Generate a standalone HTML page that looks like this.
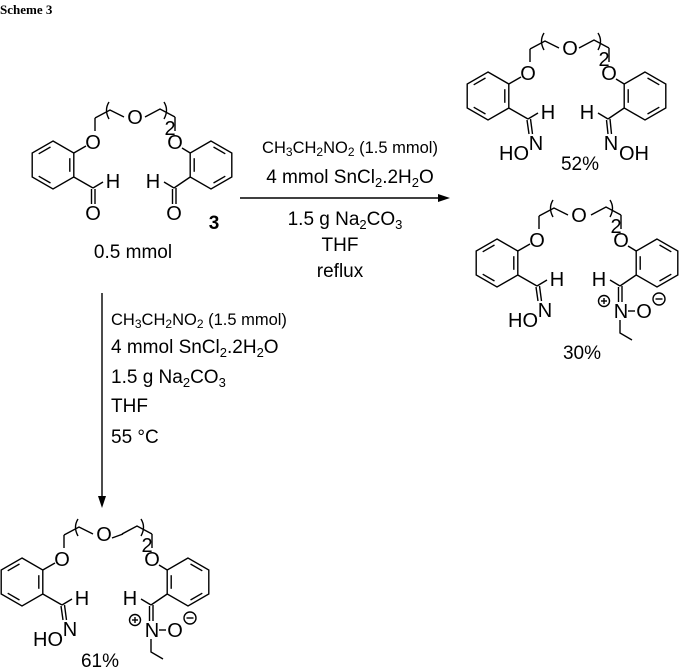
<!DOCTYPE html>
<html><head><meta charset="utf-8"><style>
html,body{margin:0;padding:0;background:#fff;}
svg{display:block;}
text{font-family:"Liberation Sans",sans-serif;font-size:20px;fill:#000;}
.b line,.b polyline,.b polygon,.b path,.b circle{stroke:#000;stroke-width:1.4;fill:none;}
</style></head><body>
<svg width="685" height="672" viewBox="0 0 685 672" xmlns="http://www.w3.org/2000/svg">
<defs>
<g id="lring" class="b">
<polygon points="0,-24 20.8,-12 20.8,12 0,24 -20.8,12 -20.8,-12"/>
<line x1="-14.3" y1="-11.2" x2="-2.5" y2="-18"/>
<line x1="16.8" y1="-6.8" x2="16.8" y2="6.8"/>
<line x1="-2.5" y1="18" x2="-14.3" y2="11.2"/>
<line x1="20.8" y1="-12" x2="33" y2="-19"/>
<line x1="42" y1="-34" x2="42" y2="-47"/>
<polyline points="42,-47 57,-55 71,-48"/>
<path d="M56,-63 Q51,-55 56,-46"/>
<line x1="20.8" y1="12" x2="40" y2="23"/>
<line x1="40" y1="23" x2="50" y2="17"/>
</g>
<g id="rring" class="b">
<polygon points="0,-24 -20.8,-12 -20.8,12 0,24 20.8,12 20.8,-12"/>
<line x1="14.3" y1="-11.2" x2="2.5" y2="-18"/>
<line x1="-16.8" y1="-6.8" x2="-16.8" y2="6.8"/>
<line x1="2.5" y1="18" x2="14.3" y2="11.2"/>
<line x1="-20.8" y1="-12" x2="-29" y2="-17"/>
<line x1="-36" y1="-34" x2="-36" y2="-48"/>
<polyline points="-36,-48 -51,-56 -66,-48"/>
<path d="M-47,-63 Q-42,-55 -47,-46"/>
<line x1="-20.8" y1="12" x2="-37" y2="23"/>
<line x1="-37" y1="23" x2="-47" y2="17"/>
</g>
</defs>

<text x="0" y="14" style="font-family:'Liberation Serif',serif;font-weight:bold;font-size:13px">Scheme 3</text>

<!-- starting material -->
<g transform="translate(53,165)">
<use href="#lring"/>
<g class="b"><line x1="38.5" y1="24" x2="38.5" y2="39"/><line x1="42" y1="24" x2="42" y2="39"/></g>
<text x="40" y="-16" text-anchor="middle">O</text>
<text x="82" y="-41" text-anchor="middle">O</text>
<text x="60" y="23" text-anchor="middle">H</text>
<text x="40" y="55" text-anchor="middle">O</text>
</g>
<g transform="translate(211,165)">
<use href="#rring"/>
<g class="b"><line x1="-38.5" y1="24" x2="-38.5" y2="39"/><line x1="-35" y1="23" x2="-35" y2="39"/></g>
<text x="-36" y="-16" text-anchor="middle">O</text>
<text x="-41" y="-30" text-anchor="middle">2</text>
<text x="-58" y="23" text-anchor="middle">H</text>
<text x="-37" y="55" text-anchor="middle">O</text>
</g>
<text x="214" y="229" text-anchor="middle" style="font-weight:bold;font-size:19px">3</text>
<text x="133" y="258" text-anchor="middle" style="font-size:19px">0.5 mmol</text>

<!-- horizontal arrow -->
<g class="b"><line x1="240" y1="198" x2="440" y2="198"/></g>
<polygon points="450,198 438,194 438,202" fill="#000"/>
<text x="350" y="153" text-anchor="middle" style="font-size:16.5px">CH<tspan font-size="12" dy="3">3</tspan><tspan dy="-3">CH</tspan><tspan font-size="12" dy="3">2</tspan><tspan dy="-3">NO</tspan><tspan font-size="12" dy="3">2</tspan><tspan dy="-3"> (1.5 mmol)</tspan></text>
<text x="350" y="183" text-anchor="middle" style="font-size:19px">4 mmol SnCl<tspan font-size="13" dy="4">2</tspan><tspan dy="-4">.2H</tspan><tspan font-size="13" dy="4">2</tspan><tspan dy="-4">O</tspan></text>
<text x="345" y="225" text-anchor="middle" style="font-size:19px">1.5 g Na<tspan font-size="13" dy="4">2</tspan><tspan dy="-4">CO</tspan><tspan font-size="13" dy="4">3</tspan></text>
<text x="340" y="251" text-anchor="middle" style="font-size:19px">THF</text>
<text x="340" y="277" text-anchor="middle" style="font-size:19px">reflux</text>

<!-- vertical arrow -->
<g class="b"><line x1="102" y1="293" x2="102" y2="498"/></g>
<polygon points="102,508 98,496 106,496" fill="#000"/>
<text x="111" y="325" style="font-size:16.5px">CH<tspan font-size="12" dy="3">3</tspan><tspan dy="-3">CH</tspan><tspan font-size="12" dy="3">2</tspan><tspan dy="-3">NO</tspan><tspan font-size="12" dy="3">2</tspan><tspan dy="-3"> (1.5 mmol)</tspan></text>
<text x="111" y="353" style="font-size:19px">4 mmol SnCl<tspan font-size="13" dy="4">2</tspan><tspan dy="-4">.2H</tspan><tspan font-size="13" dy="4">2</tspan><tspan dy="-4">O</tspan></text>
<text x="111" y="383" style="font-size:19px">1.5 g Na<tspan font-size="13" dy="4">2</tspan><tspan dy="-4">CO</tspan><tspan font-size="13" dy="4">3</tspan></text>
<text x="111" y="412" style="font-size:19px">THF</text>
<text x="111" y="443" style="font-size:19px">55 °C</text>

<!-- product 52% -->
<g transform="translate(488,96)">
<use href="#lring"/>
<g class="b"><line x1="39" y1="24" x2="41" y2="38"/><line x1="42.5" y1="23" x2="44.5" y2="38"/></g>
<text x="40" y="-16" text-anchor="middle">O</text>
<text x="82" y="-41" text-anchor="middle">O</text>
<text x="60" y="23" text-anchor="middle">H</text>
<text x="48" y="54" text-anchor="middle">N</text>
<text x="41" y="64" text-anchor="end">HO</text>
</g>
<g transform="translate(645,96)">
<use href="#rring"/>
<g class="b"><line x1="-38.5" y1="24" x2="-37" y2="38"/><line x1="-35" y1="23" x2="-33.5" y2="38"/></g>
<text x="-36" y="-16" text-anchor="middle">O</text>
<text x="-41" y="-30" text-anchor="middle">2</text>
<text x="-58" y="23" text-anchor="middle">H</text>
<text x="-34" y="54" text-anchor="middle">N</text>
<text x="-26" y="64">OH</text>
</g>
<text x="580" y="170" text-anchor="middle" style="font-size:19px">52%</text>

<!-- product 30% -->
<g transform="translate(497,263)">
<use href="#lring"/>
<g class="b"><line x1="39" y1="24" x2="41" y2="38"/><line x1="42.5" y1="23" x2="44.5" y2="38"/></g>
<text x="40" y="-16" text-anchor="middle">O</text>
<text x="82" y="-41" text-anchor="middle">O</text>
<text x="60" y="23" text-anchor="middle">H</text>
<text x="48" y="54" text-anchor="middle">N</text>
<text x="41" y="64" text-anchor="end">HO</text>
</g>
<g transform="translate(657,263)">
<use href="#rring"/>
<g class="b">
<line x1="-38.5" y1="24" x2="-38.5" y2="39"/><line x1="-35" y1="23" x2="-35" y2="39"/>
<line x1="-29" y1="48" x2="-22" y2="48"/>
<polyline points="-37,57 -37,70 -25,77"/>
<circle cx="-53" cy="38" r="5.5"/>
<circle cx="2" cy="36" r="6"/>
<line x1="-56" y1="38" x2="-50" y2="38"/><line x1="-53" y1="35" x2="-53" y2="41"/>
<line x1="-1.5" y1="36" x2="5.5" y2="36"/>
</g>
<text x="-36" y="-16" text-anchor="middle">O</text>
<text x="-41" y="-30" text-anchor="middle">2</text>
<text x="-58" y="23" text-anchor="middle">H</text>
<text x="-36" y="55" text-anchor="middle">N</text>
<text x="-13" y="55" text-anchor="middle">O</text>
</g>
<text x="582" y="359" text-anchor="middle" style="font-size:19px">30%</text>

<!-- product 61% -->
<g transform="translate(22,582)">
<use href="#lring"/>
<g class="b"><line x1="39" y1="24" x2="41" y2="38"/><line x1="42.5" y1="23" x2="44.5" y2="38"/></g>
<text x="40" y="-16" text-anchor="middle">O</text>
<text x="82" y="-41" text-anchor="middle">O</text>
<text x="60" y="23" text-anchor="middle">H</text>
<text x="48" y="54" text-anchor="middle">N</text>
<text x="41" y="64" text-anchor="end">HO</text>
</g>
<g class="b"><line x1="112" y1="538" x2="123" y2="534"/></g>
<g transform="translate(188,582)">
<use href="#rring"/>
<g class="b">
<line x1="-38.5" y1="24" x2="-38.5" y2="39"/><line x1="-35" y1="23" x2="-35" y2="39"/>
<line x1="-29" y1="48" x2="-22" y2="48"/>
<polyline points="-37,57 -37,70 -25,77"/>
<circle cx="-53" cy="38" r="5.5"/>
<circle cx="2" cy="36" r="6"/>
<line x1="-56" y1="38" x2="-50" y2="38"/><line x1="-53" y1="35" x2="-53" y2="41"/>
<line x1="-1.5" y1="36" x2="5.5" y2="36"/>
</g>
<text x="-36" y="-16" text-anchor="middle">O</text>
<text x="-41" y="-30" text-anchor="middle">2</text>
<text x="-58" y="23" text-anchor="middle">H</text>
<text x="-36" y="55" text-anchor="middle">N</text>
<text x="-13" y="55" text-anchor="middle">O</text>
</g>
<text x="100" y="667" text-anchor="middle" style="font-size:19px">61%</text>
</svg>
</body></html>
